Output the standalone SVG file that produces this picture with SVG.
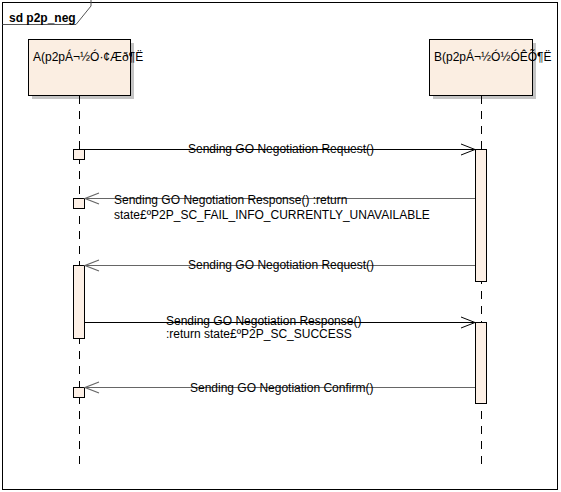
<svg xmlns="http://www.w3.org/2000/svg" width="561" height="492" viewBox="0 0 561 492">
<defs>
<style>
text{font-family:"Liberation Sans",Arial,sans-serif;font-size:12px;fill:#000}
.frame{fill:none;stroke:#000;stroke-width:1}
.life{stroke:#000;stroke-width:1;stroke-dasharray:8,7}
.actor{fill:#fbeee2;stroke:#000;stroke-width:1}
.shadow{fill:#c4c4c4}
.act{fill:#fdf0e6;stroke:#000;stroke-width:1}
.call{stroke:#000;stroke-width:1;fill:none}
.ret{stroke:#666;stroke-width:1.2;fill:none}
</style>
<linearGradient id="g" x1="0" y1="0" x2="0" y2="1">
<stop offset="0" stop-color="#fbebdd"/>
<stop offset="1" stop-color="#fdf3ea"/>
</linearGradient>
</defs>
<rect x="0" y="0" width="561" height="492" fill="#fff"/>
<g id="frame">
<rect class="frame" x="2.5" y="2.5" width="555" height="487"/>
<path d="M2.5 24.5 H76 L91 6 V0" fill="none" stroke="#555" stroke-width="1"/>
<text x="9" y="22" font-weight="bold">sd p2p_neg</text>
</g>
<g id="actorA">
<rect class="shadow" x="32" y="43" width="102" height="56"/>
<rect class="actor" x="28.5" y="39.5" width="102" height="56" fill="url(#g)"/>
<text x="33" y="61">A(p2pÁ¬½Ó·¢Æð¶Ë</text>
<line class="life" x1="79.5" y1="96" x2="79.5" y2="464"/>
</g>
<g id="actorB">
<rect class="shadow" x="433" y="43" width="103" height="56"/>
<rect class="actor" x="429.5" y="39.5" width="103" height="56" fill="url(#g)"/>
<text x="434" y="61">B(p2pÁ¬½Ó½ÓÊÕ¶Ë</text>
<line class="life" x1="481.5" y1="96" x2="481.5" y2="464"/>
</g>
<g id="activations">
<rect class="act" x="73.5" y="149.5" width="11" height="10"/>
<rect class="act" x="73.5" y="198.5" width="11" height="10"/>
<rect class="act" x="73.5" y="265.5" width="11" height="73"/>
<rect class="act" x="73.5" y="387.5" width="11" height="10"/>
<rect class="act" x="475.5" y="149.5" width="11" height="132"/>
<rect class="act" x="475.5" y="322.5" width="11" height="81"/>
</g>
<g id="connectors">
<path class="call" d="M85 149.5 H475 M461 144 L475 149.5 L461 155"/>
<path class="ret" d="M475 198.5 H85 M99 193 L85 198.5 L99 204"/>
<path class="ret" d="M475 265.5 H85 M99 260 L85 265.5 L99 271"/>
<path class="call" d="M85 322.5 H475 M461 317 L475 322.5 L461 328"/>
<path class="ret" d="M475 387.5 H85 M99 382 L85 387.5 L99 393"/>
</g>
<g id="labels">
<text x="188" y="153">Sending GO Negotiation Request()</text>
<text x="114" y="204">Sending GO Negotiation Response() :return</text>
<text x="114" y="219">state£ºP2P_SC_FAIL_INFO_CURRENTLY_UNAVAILABLE</text>
<text x="188" y="269">Sending GO Negotiation Request()</text>
<text x="166" y="325">Sending GO Negotiation Response()</text>
<text x="166" y="338">:return state£ºP2P_SC_SUCCESS</text>
<text x="190" y="392">Sending GO Negotiation Confirm()</text>
</g>
</svg>
